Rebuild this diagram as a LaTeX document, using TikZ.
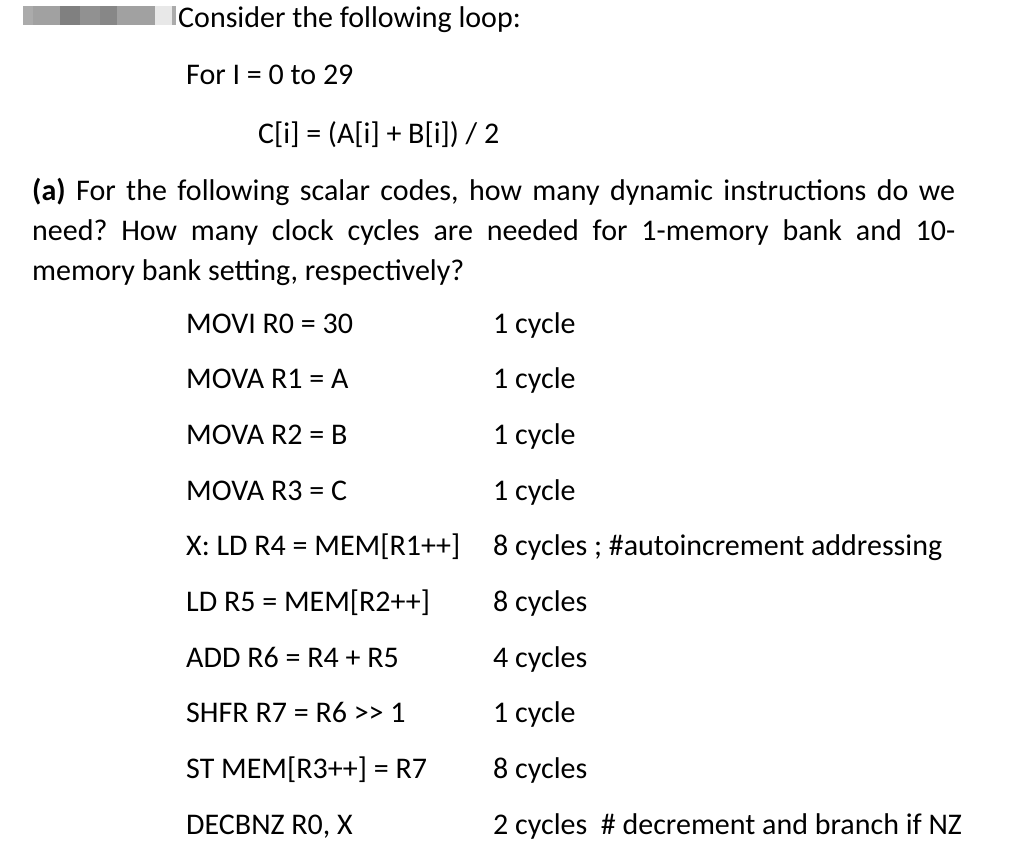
\documentclass[tikz,border=0pt]{standalone}
\usepackage{fontspec}
\setmainfont{Carlito}
\frenchspacing
\begin{document}
\begin{tikzpicture}[x=1pt,y=-1pt,t/.style={anchor=base west,inner sep=0pt,font=\fontsize{30}{34}\selectfont}]
\useasboundingbox[fill=white] (0,0) rectangle (1024,854);
\fill[black!33] (23,6) rectangle (33,25);
\fill[black!37] (33,6) rectangle (60,25);
\fill[black!50] (60,6) rectangle (80,25);
\fill[black!43] (80,6) rectangle (100,25);
\fill[black!47] (100,6) rectangle (117,25);
\fill[black!37] (117,6) rectangle (155,25);
\fill[black!9] (155,6) rectangle (172,25);
\fill[black!33] (172,6) rectangle (176,25);
\node[t] (c0) at (178,27) {Consider the following loop:};
\node[t] (c1) at (186,84) {For I = 0 to 29};
\node[t] (c2) at (258,143) {C[i] = (A[i] + B[i]) / 2};
\node[t] (p1) at (32,200) {\makebox[923pt][s]{\textbf{(a)} For the following scalar codes, how many dynamic instructions do we}};
\node[t] (p2) at (32,240) {\makebox[923pt][s]{need? How many clock cycles are needed for 1-memory bank and 10-}};
\node[t] (p3) at (32,280) {memory bank setting, respectively?};
\foreach \a/\b [count=\i from 0] in {MOVI R0 = 30/1 cycle, MOVA R1 = A/1 cycle, MOVA R2 = B/1 cycle, MOVA R3 = C/1 cycle, X: LD R4 = MEM{[}R1++{]}/8 cycles ; \#autoincrement addressing, LD R5 = MEM{[}R2++{]}/8 cycles, ADD R6 = R4 + R5/4 cycles, SHFR R7 = R6 >{}> 1/1 cycle, ST MEM{[}R3++{]} = R7/8 cycles, {DECBNZ R0, X}/{2 cycles\ \ \# decrement and branch if NZ}}{
  \node[t] (i\i) at (186,333+55.7*\i) {\a};
  \node[t] (k\i) at (493,333+55.7*\i) {\b};
}
\end{tikzpicture}
\end{document}
